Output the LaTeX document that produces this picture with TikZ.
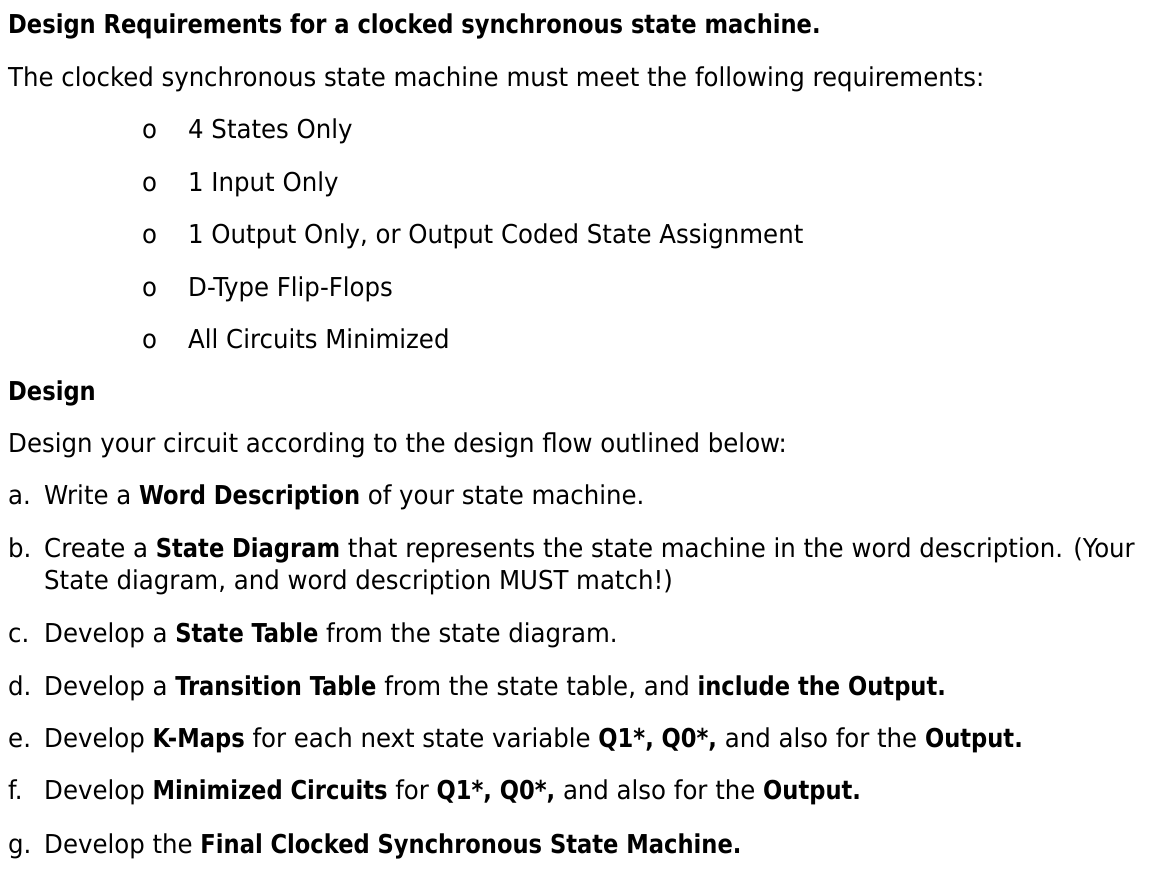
\documentclass[tikz,border=0pt]{standalone}
\usepackage{fontspec}
\setmainfont{DejaVu Sans Condensed}
\newcommand\bb[1]{\scalebox{0.925}[1]{\textbf{#1}}}
\begin{document}
\begin{tikzpicture}[x=1pt,y=1pt,
  ln/.style={anchor=base west,inner sep=0pt,xscale=1.045,font=\fontsize{26}{30}\selectfont}]
\useasboundingbox (0,0) rectangle (1150,872);
\fill[white] (0,0) rectangle (1150,872);
\node[ln] (t1) at (8,838) {\bb{Design Requirements for a clocked synchronous state machine.}};
\node[ln] (t2) at (8,785) {The clocked synchronous state machine must meet the following requirements:};
\foreach \y/\t [count=\i] in {733/4 States Only,680/1 Input Only,628/{1 Output Only, or Output Coded State Assignment},575/D-Type Flip-Flops,523/All Circuits Minimized}{
  \node[ln] (b\i) at (142,\y) {o};
  \node[ln] (bt\i) at (188,\y) {\t};
}
\node[ln] (t3) at (8,471) {\bb{Design}};
\node[ln] (t4) at (8,419) {Design your circuit according to the design flow outlined below:};
\node[ln] (la) at (8,367) {a.};
\node[ln] (ta) at (44,367) {Write a \bb{Word Description} of your state machine.};
\node[ln] (lb) at (8,314) {b.};
\node[ln] (tb) at (44,314) {Create a \bb{State Diagram} that represents the state machine in the word description. (Your};
\node[ln] (tb2) at (44,282) {State diagram, and word description MUST match!)};
\node[ln] (lc) at (8,229) {c.};
\node[ln] (tc) at (44,229) {Develop a \bb{State Table} from the state diagram.};
\node[ln] (ld) at (8,176) {d.};
\node[ln] (td) at (44,176) {Develop a \bb{Transition Table} from the state table, and \bb{include the Output.}};
\node[ln] (le) at (8,124) {e.};
\node[ln] (te) at (44,124) {Develop \bb{K-Maps} for each next state variable \bb{Q1*, Q0*,} and also for the \bb{Output.}};
\node[ln] (lf) at (8,72) {f.};
\node[ln] (tf) at (44,72) {Develop \bb{Minimized Circuits} for \bb{Q1*, Q0*,} and also for the \bb{Output.}};
\node[ln] (lg) at (8,19) {g.};
\node[ln] (tg) at (44,19) {Develop the \bb{Final Clocked Synchronous State Machine.}};
\end{tikzpicture}
\end{document}
